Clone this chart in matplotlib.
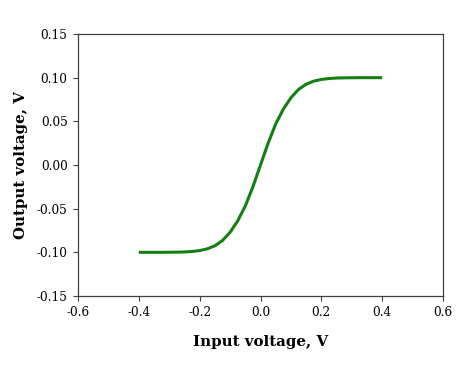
import matplotlib
matplotlib.use("Agg")
import matplotlib.pyplot as plt

# values
input_v = [-0.4, -0.375, -0.35, -0.325, -0.3, -0.275, -0.25, -0.225, -0.2, -0.175,
           -0.15, -0.125, -0.1, -0.075, -0.05, -0.025, 0.0, 0.025, 0.05, 0.075,
           0.1, 0.125, 0.15, 0.175, 0.2, 0.225, 0.25, 0.275, 0.3, 0.325,
           0.35, 0.375, 0.4]
output_v = [-0.1, -0.1, -0.1, -0.1, -0.0999, -0.0998, -0.0996, -0.099, -0.098, -0.096,
            -0.0925, -0.0865, -0.077, -0.064, -0.047, -0.025, 0.0, 0.025, 0.047, 0.064,
            0.077, 0.0865, 0.0925, 0.096, 0.098, 0.099, 0.0996, 0.0998, 0.0999, 0.1,
            0.1, 0.1, 0.1]

xticks = [-0.6, -0.4, -0.2, 0.0, 0.2, 0.4, 0.6]
yticks = [-0.15, -0.10, -0.05, 0.00, 0.05, 0.10, 0.15]

plt.rcParams['font.family'] = ['DejaVu Serif']

fig = plt.figure(figsize=(4.74, 3.65), dpi=100)
ax = fig.add_axes([78 / 474, 1 - 296 / 365, (443 - 78) / 474, (296 - 34) / 365])

ax.plot(input_v, output_v, color="#118011", linewidth=2.2, solid_capstyle="butt",
        solid_joinstyle="round")

ax.set_xlim(-0.6, 0.6)
ax.set_ylim(-0.15, 0.15)
ax.set_xticks(xticks)
ax.set_xticklabels([f"{t:.1f}" for t in xticks])
ax.set_yticks(yticks)
ax.set_yticklabels([f"{t:.2f}" for t in yticks])
ax.tick_params(direction="out", length=3.5, width=0.8, labelsize=8.7, color="#404040",
               pad=4)

for sp in ax.spines.values():
    sp.set_color("#404040")
    sp.set_linewidth(0.9)

ax.set_xlabel("Input voltage, V", fontsize=10.8, fontweight="bold", labelpad=11)
ax.set_ylabel("Output voltage, V", fontsize=10.8, fontweight="bold", labelpad=6)

fig.savefig("out.png", dpi=100)
